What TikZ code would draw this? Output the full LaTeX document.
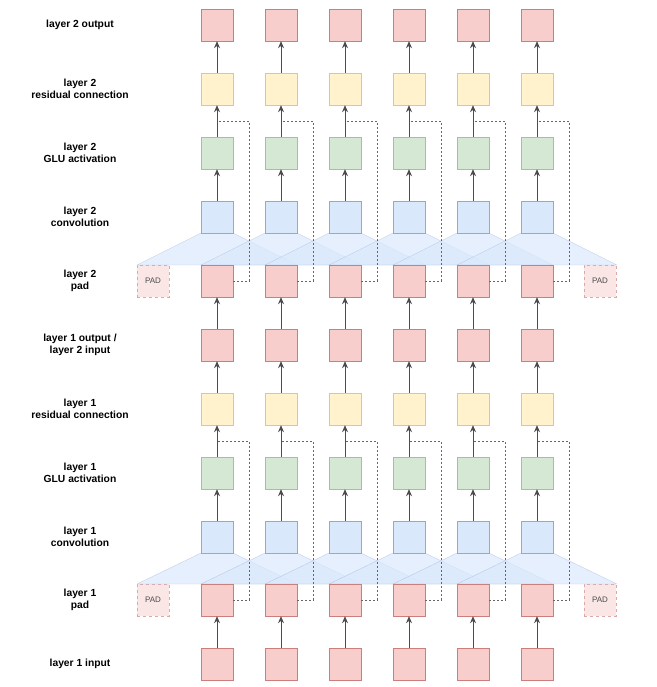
\documentclass[tikz,border=0pt]{standalone}
\usepackage{fontspec}
\setmainfont{Liberation Sans}
\usetikzlibrary{arrows.meta}
\definecolor{rf}{HTML}{F8CECC}\definecolor{rs}{HTML}{B85450}
\definecolor{yf}{HTML}{FFF2CC}\definecolor{ys}{HTML}{D6B656}
\definecolor{gf}{HTML}{D5E8D4}\definecolor{gs}{HTML}{82B366}
\definecolor{bf}{HTML}{DAE8FC}\definecolor{bs}{HTML}{6C8EBF}
\begin{document}
\begin{tikzpicture}[x=1pt,y=-1pt,
  box/.style={draw,minimum size=32pt,inner sep=0pt},
  red/.style={box,fill=rf,draw=rs!75},
  yel/.style={box,fill=yf,draw=ys!75},
  grn/.style={box,fill=gf,draw=gs!75},
  blu/.style={box,fill=bf,draw=bs!75},
  pad/.style={box,fill=rf!50,draw=rs!50,dashed,text=black!70,font=\fontsize{8}{9}\selectfont},
  lab/.style={font=\bfseries\fontsize{10.3}{12.5}\selectfont,align=center},
  arr/.style={draw=black!70,line width=0.9pt,-{Stealth[length=7pt,width=6pt]}},
  res/.style={draw=black!60,line width=0.8pt,dash pattern=on 2pt off 2pt},
  trap/.style={fill=bf,fill opacity=0.7,draw=bs,draw opacity=0.35}]
\useasboundingbox (0,0) rectangle (656,687);
% labels
\node[lab] at (80,25) {layer 2 output};
\node[lab] at (80,89) {layer 2\\residual connection};
\node[lab] at (80,153) {layer 2\\GLU activation};
\node[lab] at (80,217) {layer 2\\convolution};
\node[lab] at (80,281) {layer 2\\pad};
\node[lab] at (80,345) {layer 1 output /\\layer 2 input};
\node[lab] at (80,409) {layer 1\\residual connection};
\node[lab] at (80,473) {layer 1\\GLU activation};
\node[lab] at (80,537) {layer 1\\convolution};
\node[lab] at (80,600) {layer 1\\pad};
\node[lab] at (80,664) {layer 1 input};
% pads
\node[pad] (pa0) at (153,600) {PAD};
\node[pad] (pa7) at (600,600) {PAD};
\node[pad] (pb0) at (153,281) {PAD};
\node[pad] (pb7) at (600,281) {PAD};
% trapezoids
\foreach \i in {1,...,6}{
  \pgfmathsetmacro\cx{217+64*(\i-1)}
  \path[trap] (\cx-16,553) -- (\cx+16,553) -- (\cx+80,584) -- (\cx-80,584) -- cycle;
  \path[trap] (\cx-16,233) -- (\cx+16,233) -- (\cx+80,265) -- (\cx-80,265) -- cycle;
}
\foreach \i in {1,...,6}{
  \pgfmathsetmacro\cx{217+64*(\i-1)}
  \node[red] (in\i) at (\cx,664) {};
  \node[red] (pa\i) at (\cx,600) {};
  \node[blu] (ca\i) at (\cx,537) {};
  \node[grn] (ga\i) at (\cx,473) {};
  \node[yel] (ra\i) at (\cx,409) {};
  \node[red] (oa\i) at (\cx,345) {};
  \node[red] (pb\i) at (\cx,281) {};
  \node[blu] (cb\i) at (\cx,217) {};
  \node[grn] (gb\i) at (\cx,153) {};
  \node[yel] (rb\i) at (\cx,89) {};
  \node[red] (ob\i) at (\cx,25) {};
  \draw[res] (pa\i.east) -- ++(16,0) |- ([yshift=-16pt]ra\i.south);
  \draw[res] (pb\i.east) -- ++(16,0) |- ([yshift=-16pt]rb\i.south);
  \draw[arr] (in\i) -- (pa\i);
  \draw[arr] (ca\i) -- (ga\i);
  \draw[arr] (ga\i) -- (ra\i);
  \draw[arr] (ra\i) -- (oa\i);
  \draw[arr] (oa\i) -- (pb\i);
  \draw[arr] (cb\i) -- (gb\i);
  \draw[arr] (gb\i) -- (rb\i);
  \draw[arr] (rb\i) -- (ob\i);
}
\end{tikzpicture}
\end{document}
